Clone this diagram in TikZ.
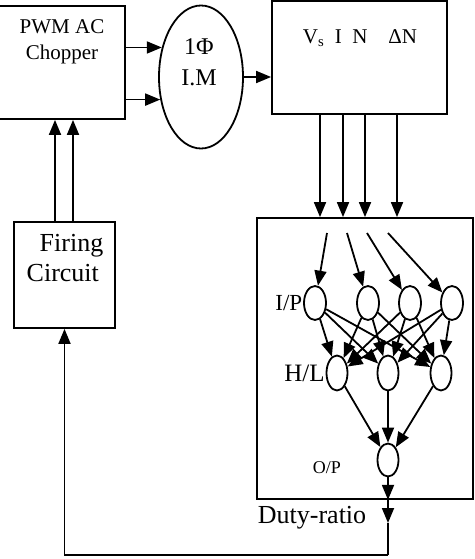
\documentclass[tikz,border=0pt]{standalone}
\usepackage{fontspec}
\setmainfont{Liberation Serif}
\usetikzlibrary{arrows.meta,shapes.geometric}

\begin{document}
\begin{tikzpicture}[x=1pt, y=-1pt, line width=1.8pt,
  blk/.style={draw, rectangle, inner sep=0pt},
  nrn/.style={draw, ellipse, inner sep=0pt, minimum width=21pt, minimum height=34pt},
  arr/.style={-{Triangle[length=15pt,width=12pt]}},
  txt/.style={inner sep=0pt, align=center}]
\useasboundingbox (0,0) rectangle (474,559);
%% blocks
\node[blk, minimum width=128pt, minimum height=113pt] (pwm) at (61,62.5) {};
\node[txt, font=\fontsize{21}{26}\selectfont] (pwmtxt) at (62,42) {PWM AC\\Chopper};
\node[draw, ellipse, inner sep=0pt, minimum width=84pt, minimum height=143pt] (im) at (201,77) {};
\node[txt, font=\fontsize{24}{31}\selectfont] (imtxt) at (199,62) {1Φ\\I.M};
\node[blk, minimum width=175pt, minimum height=113pt] (vb) at (359.5,57.5) {};
\node[txt, font=\fontsize{21}{24}\selectfont] (vbtxt) at (360,38) {V\textsubscript{s}\ \ I\ \ N\quad ΔN};
\node[blk, minimum width=101pt, minimum height=106pt] (fc) at (64.5,275) {};
\node[txt, align=left, font=\fontsize{26}{30}\selectfont] (fctxt) at (65,258) {\hspace{13pt}Firing\\Circuit};
\node[blk, minimum width=216pt, minimum height=281pt] (nn) at (365,358.5) {};

%% neurons
\node[nrn, minimum width=22pt] (i1) at (315,303) {};
\node[nrn, minimum width=22pt] (i2) at (368,303) {};
\node[nrn, minimum width=22pt] (i3) at (410,303) {};
\node[nrn, minimum width=22pt] (i4) at (452,303) {};
\node[nrn, minimum height=35pt] (h1) at (337,373) {};
\node[nrn, minimum height=35pt] (h2) at (388,373) {};
\node[nrn, minimum height=35pt] (h3) at (441,373) {};
\node[nrn, minimum height=33pt] (o) at (388,460) {};
\node[txt, anchor=east, font=\fontsize{23}{26}\selectfont] (iplbl) at (i1.west) {I/P};
\node[txt, anchor=east, font=\fontsize{25}{28}\selectfont] (hllbl) at (h1.west) {H/L};
\node[txt, font=\fontsize{18}{22}\selectfont] (oplbl) at (327,468) {O/P};
\node[txt, anchor=west, font=\fontsize{26}{30}\selectfont] (duty) at (257,518) {Duty-ratio};

\coordinate (s1) at (327,233);
\coordinate (s2) at (347,233);
\coordinate (s3) at (367,233);
\coordinate (s4) at (388,233);
\coordinate (fb) at (388,523);
\coordinate (corner) at (388,555);

%% connections
\draw[arr] (pwm.east |- im.143) -- (im.143);
\draw[arr] (pwm.east |- im.209) -- (im.209);
\draw[arr] (im.east) -- (vb.west |- im.east);
\foreach \x in {320,343,365,397}
  \draw[arr] (vb.south -| \x,0) -- (nn.north -| \x,0);
\foreach \x in {55,73}
  \draw[arr] (fc.north -| \x,0) -- (pwm.south -| \x,0);
\foreach \i in {1,...,4}
  \draw[arr] (s\i) -- (i\i);
\foreach \i in {1,...,4}
  \foreach \h in {1,2,3}
    \draw[arr] (i\i) -- (h\h);
\foreach \h in {1,2,3}
  \draw[arr] (h\h) -- (o);
\draw[arr] (o) -- (nn.south -| o.south);
\draw[arr] (nn.south -| o.south) -- (fb);
\draw (fb) -- (corner);
\draw[arr] (corner) -| (fc.south);
\end{tikzpicture}
\end{document}
